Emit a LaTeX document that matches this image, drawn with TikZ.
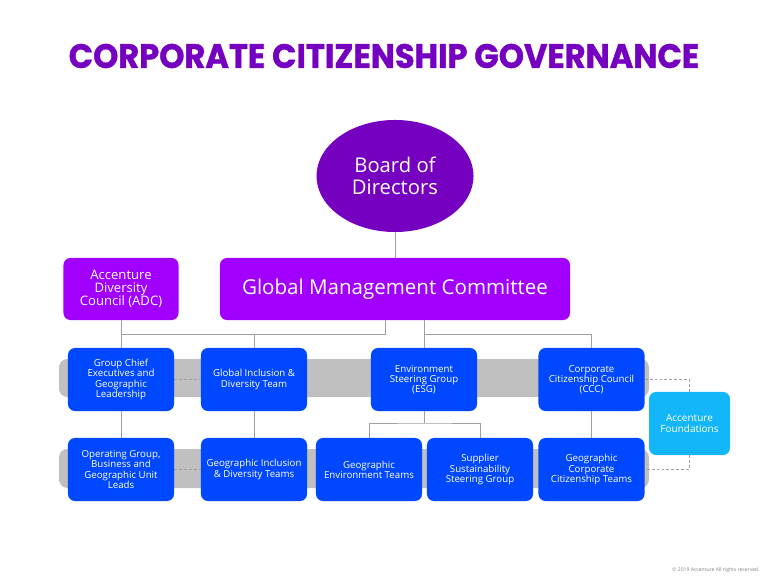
\documentclass[tikz,border=0pt]{standalone}
\usepackage{fontspec}
\setmainfont{Open Sans}
\newfontfamily\titlefont{Poppins}[FakeStretch=0.95, BoldFeatures={FakeBold=1.2}]
\usepackage{tikz}
\usetikzlibrary{shapes.geometric}
\definecolor{accpurple}{RGB}{117,0,192}
\definecolor{accviolet}{RGB}{161,0,255}
\definecolor{accblue}{RGB}{0,72,255}
\definecolor{acccyan}{RGB}{20,182,250}
\definecolor{bandgray}{RGB}{192,192,192}
\definecolor{linegray}{RGB}{160,160,160}

\begin{document}
\begin{tikzpicture}[x=0.025cm, y=-0.025cm,
    box/.style={rectangle, rounded corners=5pt, fill=accblue, text=white, align=center,
      minimum width=2.65cm, minimum height=1.575cm, inner sep=1pt,
      font=\fontsize{6.9}{7.2}\selectfont},
    conn/.style={draw=linegray, line width=0.6pt},
    link/.style={draw=linegray, line width=0.5pt, dash pattern=on 2pt off 1.5pt}]
  \useasboundingbox (0,0) rectangle (768,576);
  \node[text=accpurple, font=\titlefont\bfseries\fontsize{24}{28}\selectfont] (title) at (384,56) {CORPORATE CITIZENSHIP GOVERNANCE};
  \fill[bandgray, rounded corners=6pt] (59,359) rectangle (649,397);
  \fill[bandgray, rounded corners=6pt] (59,449) rectangle (649,488);
  \node[ellipse, fill=accpurple, text=white, align=center, inner sep=0pt,
    minimum width=3.925cm, minimum height=2.8cm,
    font=\fontsize{14.4}{16}\selectfont] (board) at (395,176) {Board of\\Directors};
  \begin{scope}[every node/.style={rectangle, rounded corners=5pt, fill=accviolet, text=white,
      align=center, minimum height=1.55cm, inner sep=1pt}]
    \node[minimum width=2.875cm, font=\fontsize{9.3}{9.4}\selectfont] (adc) at (121,289) {Accenture\\Diversity\\Council (ADC)};
    \node[minimum width=8.75cm, font=\fontsize{14.6}{16}\selectfont] (gmc) at (395,289) {Global Management Committee};
  \end{scope}
  \begin{scope}[every node/.style={box}]
    \node (gce) at (121,379.5) {Group Chief\\Executives and\\Geographic\\Leadership};
    \node (gid) at (254,379.5) {Global Inclusion \&\\Diversity Team};
    \node (esg) at (424,379.5) {Environment\\Steering Group\\(ESG)};
    \node (ccc) at (591.5,379.5) {Corporate\\Citizenship Council\\(CCC)};
    \node (ogl) at (121,469.5) {Operating Group,\\Business and\\Geographic Unit\\Leads};
    \node (gidt) at (254,469.5) {Geographic Inclusion\\\& Diversity Teams};
    \node (gev) at (369,469.5) {Geographic\\Environment Teams};
    \node (ssg) at (480,469.5) {Supplier\\Sustainability\\Steering Group};
    \node (gcct) at (591.5,469.5) {Geographic\\Corporate\\Citizenship Teams};
    \node[fill=acccyan, minimum width=2.025cm, font=\fontsize{7.1}{7.9}\selectfont] (fnd) at (689.5,423.5) {Accenture\\Foundations};
  \end{scope}
  \coordinate (busL) at (385,334);
  \coordinate (busR) at (424,334);
  \coordinate (busE) at (424,423);
  \begin{scope}[every edge/.style={conn}]
    \path (board) edge (gmc);
    \path (adc) edge (gce);
    \path (gce) edge (ogl);
    \path (gid) edge (gidt);
    \path (ccc) edge (gcct);
    \path (esg) edge (busE);
  \end{scope}
  \draw[conn] (gmc.south -| busL) -- (busL) -| (gid.north);
  \draw[conn] (busL) -| (gce.north);
  \draw[conn] (gmc.south -| busR) -- (busR) -| (ccc.north);
  \draw[conn] (busR) -- (esg.north);
  \draw[conn] (gev.north) |- (busE) -| (ssg.north);
  \begin{scope}[every edge/.style={link}]
    \path (gce) edge (gid);
    \path (ogl) edge (gidt);
  \end{scope}
  \draw[link] (ccc.east) -| (fnd.north);
  \draw[link] (fnd.south) |- (gcct.east);
  \node[text=gray, font=\fontsize{3.6}{4}\selectfont] (copy) at (716,570) {© 2019 Accenture All rights reserved.};
\end{tikzpicture}
\end{document}
